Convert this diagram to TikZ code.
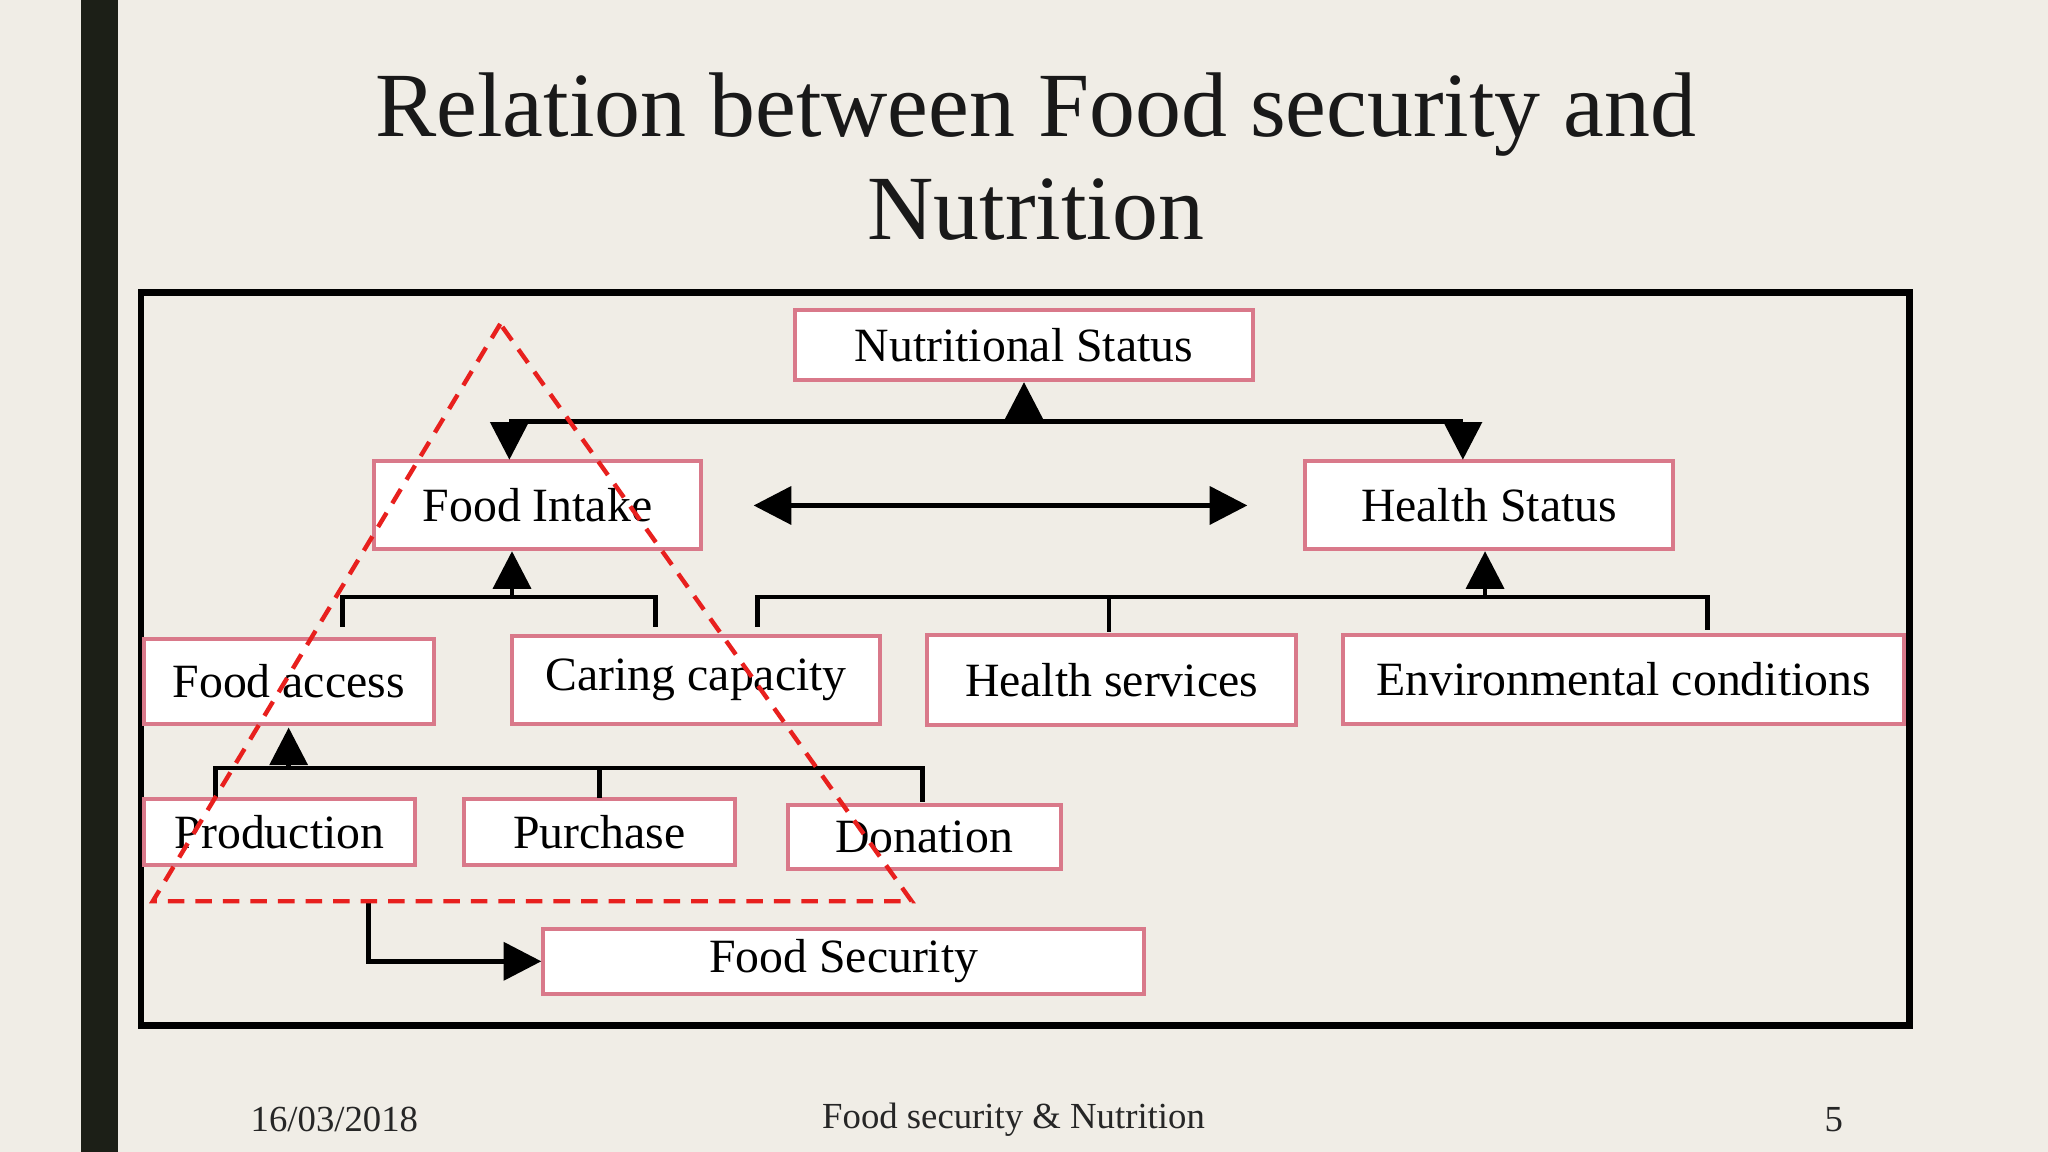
\documentclass[tikz,border=0pt]{standalone}
\usepackage{fontspec}
\setmainfont{Liberation Serif}
\usetikzlibrary{arrows.meta}
\definecolor{bg}{HTML}{F0EDE6}
\definecolor{bar}{HTML}{1C1F17}
\definecolor{pinkb}{HTML}{D9798A}
\definecolor{redd}{HTML}{E8201E}
\begin{document}
\begin{tikzpicture}[x=0.025cm,y=-0.025cm,
  box/.style={draw=pinkb,line width=2.2pt,fill=white,font=\fontsize{26}{30}\selectfont,inner sep=0pt},
  conn/.style={line width=2.6pt,black},
  tip/.style={-{Triangle[width=0.72cm,length=0.72cm]}},
  lbl/.style={font=\fontsize{20}{24}\selectfont,text=black!85}]
\useasboundingbox (0,0) rectangle (1568,882);
\fill[bg] (0,0) rectangle (1568,882);
\fill[bar] (62,0) rectangle (90,882);
\node[font=\fontsize{50}{60}\selectfont,align=center,text=black!90] (title) at (793,120) {Relation between Food security and\\[-4pt]Nutrition};
\draw[line width=3.5pt] (108,224) rectangle (1462,785);
% boxes
\newcommand\bx[6]{\node[box,minimum width={(#4-#2)*0.025cm},minimum height={(#5-#3)*0.025cm}] (#1) at ({(#2+#4)/2},{(#3+#5)/2}) {#6};}
\bx{ns}{609}{237}{959}{291}{Nutritional Status}
\bx{fi}{286}{353}{537}{420}{Food Intake}
\bx{hs}{999}{353}{1281}{420}{Health Status}
\bx{fa}{110}{489}{332}{554}{Food access}
\bx{cc}{392}{487}{674}{554}{Caring capacity}
\bx{hsv}{710}{486}{992}{555}{Health services}
\bx{ec}{1028}{486}{1458}{554}{Environmental conditions}
\bx{pr}{110}{612}{318}{662}{Production}
\bx{pu}{355}{612}{563}{662}{Purchase}
\bx{do}{603}{616}{812}{665}{Donation}
\bx{fs}{416}{711}{876}{761}{Food Security}
% top tree
\coordinate (tL) at (390,323); \coordinate (tR) at (1120,323); \coordinate (tM) at (784,323);
\draw[conn] (tL) -- (tR);
\draw[conn,tip] (tM) -- (ns.south);
\draw[conn,tip] (tL) -- (390,352);
\draw[conn,tip] (tR) -- (1120,352);
% double arrow
\coordinate (dA) at (577,387); \coordinate (dB) at (955,387);
\draw[conn,{Triangle[width=0.72cm,length=0.72cm]}-{Triangle[width=0.72cm,length=0.72cm]}] (dA) -- (dB);
% food intake tree
\coordinate (a1) at (262,457); \coordinate (a2) at (502,457); \coordinate (a3) at (392,457);
\draw[conn] (262,480) -- (a1) -- (a2) -- (502,480);
\draw[conn,tip] (a3) -- (392,422);
% health status tree
\coordinate (b1) at (580,457); \coordinate (b2) at (849,457); \coordinate (b3) at (1307,457); \coordinate (b4) at (1137,457);
\draw[conn] (580,480) -- (b1) -- (b3) -- (1307,482);
\draw[conn] (b2) -- (849,484);
\draw[conn,tip] (b4) -- (1137,422);
% food access tree
\coordinate (c1) at (165,588); \coordinate (c2) at (459,588); \coordinate (c3) at (706,588); \coordinate (c4) at (221,588);
\draw[conn] (165,611) -- (c1) -- (c3) -- (706,614);
\draw[conn] (c2) -- (459,611);
\draw[conn,tip] (c4) -- (221,557);
% food security arrow
\coordinate (f1) at (282,690);
\draw[conn,tip] (f1) |- (fs.west);
% red triangle
\coordinate (r1) at (383,248); \coordinate (r2) at (117,690); \coordinate (r3) at (698,690);
\draw[redd,line width=2.4pt,dash pattern=on 9pt off 6pt] (r1) -- (r2) -- (r3) -- cycle;
% footer
\node[lbl] (date) at (256,857) {16/03/2018};
\node[lbl] (foot) at (776,857) {Food security \& Nutrition};
\node[lbl] (pg) at (1404,857) {5};
\end{tikzpicture}
\end{document}
